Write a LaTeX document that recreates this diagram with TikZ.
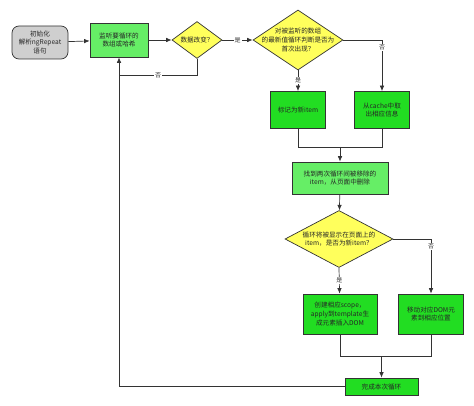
\documentclass[tikz,border=0pt]{standalone}
\usepackage{fontspec}
\setmainfont{Noto Sans CJK SC}
\usepackage{tikz}
\usetikzlibrary{shapes,arrows.meta}
\definecolor{procgreen}{HTML}{22DD22}
\definecolor{lightgreen}{HTML}{66EE66}
\definecolor{decyellow}{HTML}{FFFF5C}
\definecolor{startgray}{HTML}{CFCFCF}
\definecolor{linegray}{HTML}{333333}
\tikzstyle{arrow} = [draw, -{Latex[length=5.5pt,width=4.5pt]}, line width=0.7pt, linegray]
\tikzstyle{line} = [draw, line width=0.7pt, linegray]
\tikzstyle{process} = [draw=linegray, line width=0.7pt, fill=procgreen, align=center, inner sep=0pt, text=black!85]
\tikzstyle{decision} = [draw=linegray, line width=0.7pt, diamond, fill=decyellow, inner sep=0pt]
\tikzstyle{dectext} = [align=center, inner sep=0pt, text=black!85]
\tikzstyle{yesno} = [fill=white, inner sep=1pt, text=black!80, font=\fontsize{6}{7}\selectfont]

\begin{document}
\begin{tikzpicture}[x=1pt, y=-1pt, font=\fontsize{6.6}{8.6}\selectfont]
      \useasboundingbox (0,0) rectangle (474,406);

      \node[process, fill=startgray, rounded corners=7pt, minimum width=56pt, minimum height=33pt] (init) at (40,42.5) {初始化\\解析ngRepeat\\语句};
      \node[process, fill=lightgreen, minimum width=58pt, minimum height=34pt] (watch) at (119,40) {监听要循环的\\数组或哈希};

      \node[decision, minimum width=50pt, minimum height=37pt] (changed) at (197,40) {};
      \node[dectext] (changedtxt) at (changed.center) {数据改变？};
      \node[decision, minimum width=90pt, minimum height=60pt] (first) at (298,40) {};
      \node[dectext] (firsttxt) at (first.center) {对被监听的数组\\的最新值循环判断是否为\\首次出现？};

      \node[process, minimum width=55pt, minimum height=37pt] (newitem) at (298,110) {标记为新item};
      \node[process, minimum width=55pt, minimum height=37pt] (cache) at (382,110) {从cache中取\\出相应信息};
      \node[process, fill=lightgreen, minimum width=96pt, minimum height=32pt] (remove) at (340,178) {找到两次循环间被移除的\\item，从页面中删除};

      \node[decision, minimum width=108pt, minimum height=57pt] (isnew) at (339,239) {};
      \node[dectext] (isnewtxt) at (isnew.center) {循环将被显示在页面上的\\item，是否为新item？};

      \node[process, minimum width=74pt, minimum height=40pt] (create) at (340,314) {创建相应scope，\\apply到template生\\成元素插入DOM};
      \node[process, minimum width=65pt, minimum height=40pt] (move) at (431,314) {移动对应DOM元\\素到相应位置};
      \node[process, minimum width=73pt, minimum height=17pt] (done) at (381.5,386.5) {完成本次循环};

      \coordinate (back) at (119,75);
      \coordinate (join1) at (340,147);
      \coordinate (join2) at (381.5,356);

      \path[arrow] (init) -- (watch);
      \path[arrow] (watch) -- (changed);
      \path[arrow] (changed) -- node[yesno] {是} (first);
      \path[line] (changed.south) |- node[yesno, pos=0.75] {否} (back);
      \path[arrow] (done.west) -| (watch.south);

      \path[arrow] (first.south) -- node[yesno] {是} (newitem);
      \path[arrow] (first.east) -| node[yesno, pos=0.57] {否} (cache);
      \path[line] (newitem.south) |- (join1);
      \path[line] (cache.south) |- (join1);
      \path[arrow] (join1) -- (remove);
      \path[arrow] (remove) -- (isnew);

      \path[arrow] (isnew.south) -- node[yesno] {是} (create);
      \path[arrow] (isnew.east) -| node[yesno, pos=0.57] {否} (move);
      \path[line] (create.south) |- (join2);
      \path[line] (move.south) |- (join2);
      \path[arrow] (join2) -- (done);
    \end{tikzpicture}
\end{document}
